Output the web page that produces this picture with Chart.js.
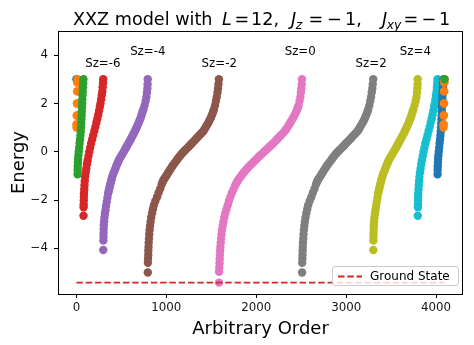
<!DOCTYPE html>
<html lang="en">
<head>
  <meta charset="UTF-8">
  <title>XXZ spectrum</title>
  <script src="https://cdn.jsdelivr.net/npm/chart.js"></script>
  <style>
    html, body { margin: 0; padding: 0; background: #fff; }
    canvas { display: block; }
  </style>
</head>
<body>
  <canvas id="spectrum" width="474" height="345"></canvas>

  <script>
    // Hilbert-space sector sizes (Sz = -6 ... 6) for L = 12, plotted one after another
    const sectorSizes = [1, 12, 66, 220, 495, 792, 924, 792, 495, 220, 66, 12, 1];
    const sectorColors = ['#1f77b4', '#ff7f0e', '#2ca02c', '#d62728', '#9467bd', '#8c564b',
                          '#e377c2', '#7f7f7f', '#bcbd22', '#17becf', '#1f77b4', '#ff7f0e', '#2ca02c'];

    // sorted energies inside each sector: offset within the sector -> energy
    const off1 = [0];
    const en1 = [3.0];

    const off12 = [0, 1, 2, 3, 4, 5, 6, 7, 8, 9, 10, 11];
    const en12 = [1.0, 1.13, 1.13, 1.5, 1.5, 2.0, 2.0, 2.5, 2.5, 2.87, 2.87, 3.0];

    const off66 = [0, 1, 2, 4, 6, 9, 13, 18, 22, 27, 31, 35, 38, 41, 43, 45, 47, 49, 51, 53,
                   55, 57, 60, 63, 65];
    const en66 = [-0.93, -0.75, -0.6, -0.45, -0.3, -0.15, 0.0, 0.17, 0.34, 0.5, 0.66, 0.83, 1.0,
                  1.17, 1.34, 1.5, 1.67, 1.84, 2.0, 2.17, 2.34, 2.5, 2.67, 2.84, 3.0];

    const off220 = [0, 1, 2, 3, 4, 5, 8, 11, 14, 18, 24, 31, 38, 46, 55, 64, 74, 84, 96, 108,
                    120, 132, 143, 154, 164, 173, 182, 189, 196, 203, 209, 213, 217, 219];
    const en220 = [-2.65, -2.3, -2.18, -2.02, -1.87, -1.73, -1.56, -1.39, -1.21, -1.04,
                   -0.87, -0.7, -0.52, -0.35, -0.18, 0.0, 0.17, 0.34, 0.51, 0.68,
                   0.86, 1.03, 1.2, 1.37, 1.53, 1.7, 1.86, 2.0, 2.17, 2.34, 2.5, 2.67, 2.84, 3.0];

    const off495 = [0, 1, 2, 3, 4, 6, 9, 13, 18, 25, 31, 38, 46,
                    54, 59, 64, 70, 75, 81, 87, 93, 99, 107, 116, 125, 134, 143, 153, 163, 173,
                    184, 196, 208, 220, 232, 244, 256, 267, 279, 290, 302, 313, 324, 335, 346,
                    356, 367, 377, 387, 397, 406, 415, 423, 430, 438, 446,
                    459, 471, 480, 486, 490, 493, 494];
    const en495 = [-4.07, -3.68, -3.52, -3.36, -3.2, -3.04, -2.88, -2.72, -2.57, -2.42, -2.25, -2.08, -1.9,
                   -1.73, -1.645, -1.56, -1.475, -1.39, -1.3, -1.21, -1.125, -1.04, -0.955, -0.87, -0.785,
                   -0.7, -0.61, -0.52, -0.435, -0.35,
                   -0.275, -0.2, -0.125, -0.05, 0.03, 0.11, 0.19, 0.27, 0.345, 0.42, 0.5, 0.58, 0.655,
                   0.73, 0.81, 0.89, 0.975, 1.06, 1.145, 1.23, 1.315, 1.4, 1.49, 1.58, 1.665, 1.75,
                   1.92, 2.1, 2.27, 2.45, 2.62, 2.8, 3.0];

    const off792 = [0, 1, 3, 5, 6, 8, 10, 13, 16, 20, 25, 31, 38, 47, 57, 68, 84, 103, 120, 138,
                    155, 164, 174, 186, 198, 210, 222, 234, 245, 257, 269, 282, 296, 310, 324, 338,
                    352, 366, 380, 396, 412, 428, 444, 460, 475, 490, 506, 521, 536, 551, 566, 581,
                    596, 611, 625, 638, 651, 665, 678, 689, 700, 710, 720, 728, 735,
                    748, 758, 767, 775, 781, 786, 791];
    const en792 = [-5.0, -4.6, -4.43, -4.27, -4.1, -3.94, -3.77, -3.6, -3.42, -3.24,
                   -3.07, -2.9, -2.72, -2.55, -2.38, -2.21, -2.04, -1.87, -1.7, -1.53,
                   -1.35, -1.265, -1.18, -1.11, -1.04, -0.97, -0.9, -0.83, -0.76, -0.69, -0.62,
                   -0.55, -0.48, -0.41, -0.34, -0.27, -0.2, -0.135, -0.07, -0.01, 0.05, 0.11,
                   0.17, 0.23, 0.29, 0.35, 0.41, 0.47, 0.53, 0.59, 0.65, 0.71, 0.77, 0.83, 0.89,
                   0.975, 1.06, 1.145, 1.23, 1.315, 1.4, 1.49, 1.58, 1.665, 1.75,
                   1.92, 2.1, 2.27, 2.45, 2.62, 2.8, 3.0];

    const off924 = [0, 1, 3, 6, 8, 10, 13, 15, 19, 23, 28, 33, 41, 49, 59, 70, 83, 97, 111, 126,
                    143, 161, 180, 190, 200, 212, 224, 238, 252, 267, 282, 298, 314, 332, 350,
                    369, 388, 406, 424, 443, 462, 482, 502, 520, 537, 553, 568, 584, 600, 618,
                    636, 654, 672, 689, 706, 723, 739, 754, 768, 782, 796, 810, 824, 837, 850,
                    860, 870, 878, 885, 896, 905, 911, 916, 920, 923];
    const en924 = [-5.42, -4.97, -4.8, -4.62, -4.45, -4.28, -4.1, -3.94, -3.77, -3.6,
                   -3.42, -3.24, -3.07, -2.9, -2.72, -2.55, -2.38, -2.21, -2.04, -1.87,
                   -1.71, -1.56, -1.4, -1.33, -1.25, -1.18, -1.11, -1.04, -0.97, -0.9, -0.83,
                   -0.76, -0.69, -0.62, -0.55, -0.48, -0.41, -0.345, -0.28, -0.21, -0.14, -0.07,
                   0.0, 0.06, 0.12, 0.175, 0.23, 0.285, 0.34, 0.41, 0.48, 0.55, 0.62, 0.685,
                   0.75, 0.82, 0.89, 0.97, 1.05, 1.135, 1.22, 1.31, 1.4, 1.49, 1.58,
                   1.665, 1.75, 1.835, 1.92, 2.1, 2.27, 2.45, 2.62, 2.8, 3.0];

    const groundState = -5.42;
    const xTicks = [0, 1000, 2000, 3000, 4000];
    const yTicks = [-4, -2, 0, 2, 4];

    // sector annotations (centred, baseline at labelY)
    const labelText = ['Sz=-6', 'Sz=-4', 'Sz=-2', 'Sz=0', 'Sz=2', 'Sz=4'];
    const labelX = [294, 794, 1589, 2489, 3278, 3770];
    const labelY = [3.5, 4.0, 3.5, 4.0, 3.5, 4.0];

    const spectra = {
      1: [off1, en1], 12: [off12, en12], 66: [off66, en66], 220: [off220, en220],
      495: [off495, en495], 792: [off792, en792], 924: [off924, en924]
    };

    const FONT = "'DejaVu Sans', sans-serif";
    const datasets = [];
    let start = 0;
    sectorSizes.forEach((n, i) => {
      const [offs, ens] = spectra[n];
      datasets.push({
        type: 'scatter',
        data: offs.map((o, k) => ({ x: start + o, y: ens[k] })),
        pointBackgroundColor: sectorColors[i],
        pointBorderColor: sectorColors[i],
        pointBorderWidth: 0,
        pointRadius: 4.2,
        order: 20 - i   // later sectors on top
      });
      start += n;
    });
    const total = start;

    datasets.push({
      type: 'line',
      data: [{ x: 0, y: groundState }, { x: total - 1, y: groundState }],
      borderColor: '#d62728',
      borderWidth: 1.8,
      borderDash: [6.5, 2.8],
      pointRadius: 0,
      order: 0
    });

    const decor = {
      id: 'decor',
      afterDraw(chart) {
        const { ctx, chartArea: a, scales: { x, y } } = chart;
        ctx.save();

        // sector labels
        ctx.fillStyle = '#000';
        ctx.font = '11.8px ' + FONT;
        ctx.textAlign = 'center';
        ctx.textBaseline = 'alphabetic';
        labelText.forEach((t, i) => ctx.fillText(t, x.getPixelForValue(labelX[i]), y.getPixelForValue(labelY[i])));

        // legend box
        const lx = 332.5, ly = 266.5, lw = 126, lh = 19;
        ctx.beginPath();
        ctx.roundRect(lx, ly, lw, lh, 2.5);
        ctx.fillStyle = 'rgba(255,255,255,0.8)';
        ctx.fill();
        ctx.strokeStyle = '#cccccc';
        ctx.lineWidth = 1;
        ctx.stroke();
        ctx.beginPath();
        ctx.setLineDash([6.5, 2.8]);
        ctx.strokeStyle = '#d62728';
        ctx.lineWidth = 1.8;
        ctx.moveTo(338, 276.5);
        ctx.lineTo(362, 276.5);
        ctx.stroke();
        ctx.setLineDash([]);
        ctx.fillStyle = '#000';
        ctx.font = '12px ' + FONT;
        ctx.textAlign = 'left';
        ctx.textBaseline = 'middle';
        ctx.fillText('Ground State', 370, 276.5);

        // frame
        ctx.strokeStyle = '#000';
        ctx.lineWidth = 1;
        ctx.strokeRect(a.left + 0.5, a.top + 0.5, a.right - a.left - 1, a.bottom - a.top);

        // axis titles
        ctx.font = '18px ' + FONT;
        ctx.textAlign = 'center';
        ctx.textBaseline = 'alphabetic';
        ctx.fillText('Arbitrary Order', (a.left + a.right) / 2, 333.5);
        ctx.save();
        ctx.translate(23.5, (a.top + a.bottom) / 2);
        ctx.rotate(-Math.PI / 2);
        ctx.fillText('Energy', 0, 0);
        ctx.restore();

        // title with math parts; x = null puts a subscript right after the previous glyph
        const rm = '17.6px ' + FONT, it = 'italic 17.6px ' + FONT, sub = 'italic 12.3px ' + FONT;
        const parts = [
          ['XXZ model with', rm, 73, 0], ['L', it, 222, 0], ['=', rm, 234.5, 0], ['12,', rm, 251, 0],
          ['J', it, 291, 0], ['z', sub, null, 3.5], ['=', rm, 308.5, 0], ['\u2212', rm, 327, 0], ['1,', rm, 345, 0],
          ['J', it, 382, 0], ['xy', sub, null, 3.5], ['=', rm, 403.5, 0], ['\u2212', rm, 421.5, 0], ['1', rm, 439, 0]
        ];
        ctx.textAlign = 'left';
        let prevEnd = 0;
        parts.forEach(([t, f, px, dy]) => {
          ctx.font = f;
          const left = px === null ? prevEnd - 0.5 : px;
          ctx.fillText(t, left, 25 + dy);
          prevEnd = left + ctx.measureText(t).width;
        });

        ctx.restore();
      }
    };

    new Chart(document.getElementById('spectrum'), {
      data: { datasets },
      options: {
        responsive: false,
        animation: false,
        events: [],
        layout: { padding: { top: 31, right: 11, bottom: 0, left: 0 } },
        plugins: { legend: { display: false }, tooltip: { enabled: false } },
        scales: {
          x: {
            type: 'linear',
            min: -204.75,
            max: 4299.75,
            afterFit: s => { s.height = 51; },
            afterBuildTicks: s => { s.ticks = xTicks.map(v => ({ value: v })); },
            grid: { drawOnChartArea: false, drawTicks: true, tickLength: 4, color: '#000', lineWidth: 1 },
            border: { display: false },
            ticks: { autoSkip: false, maxRotation: 0, padding: 3, color: '#111',
                     font: { family: FONT, size: 11.8 }, callback: v => String(v) }
          },
          y: {
            type: 'linear',
            min: -5.89,
            max: 5,
            afterFit: s => { s.width = 58; },
            afterBuildTicks: s => { s.ticks = yTicks.map(v => ({ value: v })); },
            grid: { drawOnChartArea: false, drawTicks: true, tickLength: 4, color: '#000', lineWidth: 1 },
            border: { display: false },
            ticks: { padding: 6, color: '#111', font: { family: FONT, size: 11.8 },
                     callback: v => String(v).replace('-', '\u2212') }
          }
        }
      },
      plugins: [decor]
    });
  </script>
</body>
</html>
